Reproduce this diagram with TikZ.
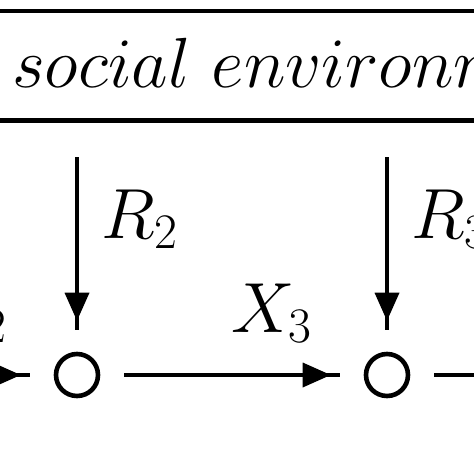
\documentclass[tikz,border=0pt]{standalone}
\usepackage{fix-cm}
\usetikzlibrary{arrows.meta,decorations.markings,fit}
\begin{document}
\begin{tikzpicture}[x=1pt,y=-1pt,
  state/.style={circle, draw, line width=4.6pt, minimum size=42pt, inner sep=0pt},
  arr/.style 2 args={line width=4.6pt, shorten <=#1, shorten >=#2,
    postaction={decorate, decoration={markings,
      mark=at position -#2-9pt with {\arrow{Triangle[length=28pt,width=25pt,line width=0pt]}}}}},
  plainline/.style={line width=4.6pt},
  lab/.style={inner sep=0pt, font=\fontsize{71}{85}\selectfont},
  envbox/.style={draw, line width=4.6pt, inner sep=0pt},
]
\useasboundingbox (0,0) rectangle (474,474);
\coordinate (bl) at (-60,120.5);
\coordinate (tr) at (700,11);
\node[envbox, fit=(bl)(tr)] (env) {};
\node[lab, anchor=base west] (envtext) at (12,87) {$social\ environment$};
\node[state] (c1) at (77,375) {};
\node[state] (c2) at (387,375) {};
\coordinate (c0) at (-233,375);
\coordinate (c3) at (697,375);
\draw[arr={24pt}{24pt}] (c0) -- (c1);
\draw[arr={24pt}{24pt}] (c1) -- (c2);
\draw[plainline, shorten <=24pt] (c2) -- (c3);
\draw[arr={34.5pt}{22pt}] (env.south -| c1) -- (c1);
\draw[arr={34.5pt}{22pt}] (env.south -| c2) -- (c2);
\node[lab, anchor=base west] (r2) at (101,238) {$R_2$};
\node[lab, anchor=base west] (r3) at (411,238) {$R_3$};
\node[lab, anchor=base west] (x3) at (231,332) {$X_3$};
\node[lab, anchor=base east] (x2) at (7,332) {$X_2$};
\end{tikzpicture}
\end{document}
